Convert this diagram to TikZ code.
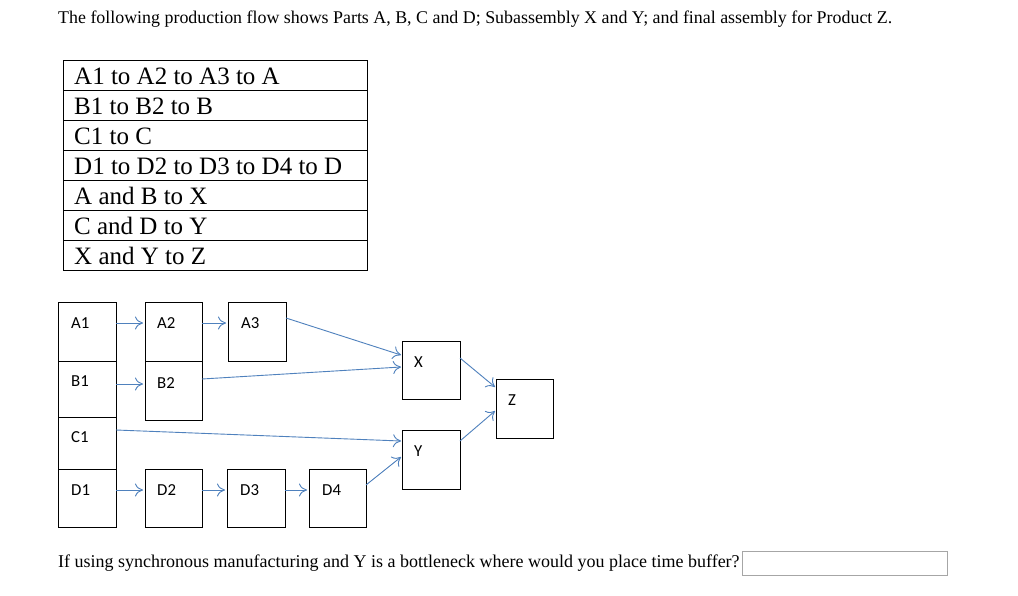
\documentclass[tikz,border=0pt]{standalone}
\usepackage{fontspec}
\setmainfont{Liberation Serif}
\newfontfamily\carlitofam{Carlito}
\usetikzlibrary{arrows.meta}
\definecolor{ablue}{RGB}{79,129,189}
\tikzset{
 bx/.style={draw,line width=1pt,inner sep=0pt},
 lb/.style={anchor=west,inner sep=0pt,font=\carlitofam\fontsize{16.8}{16.8}\selectfont},
 fl/.style={draw=ablue,line width=0.9pt,-{To[length=8pt,width=13pt,open]}},
 row/.style={draw,line width=1pt},
 tt/.style={anchor=west,inner sep=0pt,font=\fontsize{25}{25}\selectfont}
}
\begin{document}
\begin{tikzpicture}[x=1pt,y=-1pt]
\useasboundingbox[fill=white] (0,0) rectangle (1018,595);
\node[anchor=west,inner sep=0pt,font=\fontsize{17.9}{17.9}\selectfont] (t) at (58,19) {The following production flow shows Parts A, B, C and D; Subassembly X and Y; and final assembly for Product Z.};
\foreach \i/\s in {0/{A1 to A2 to A3 to A},1/{B1 to B2 to B},2/{C1 to C},3/{D1 to D2 to D3 to D4 to D},4/{A and B to X},5/{C and D to Y},6/{X and Y to Z}}{
 \draw[row] (63,60+30*\i) rectangle (367,90+30*\i);
 \node[tt] (r\i) at (74,76+30*\i) {\s};
}
% boxes
\draw[bx] (58,302) rectangle (116,361); \node[lb] (a1) at (71,323) {A1};
\draw[bx] (58,361) rectangle (116,417); \node[lb] (b1) at (71,381) {B1};
\draw[bx] (58,417) rectangle (116,469); \node[lb] (c1) at (71,437) {C1};
\draw[bx] (58,469) rectangle (116,527); \node[lb] (d1) at (71,490) {D1};
\draw[bx] (145,302) rectangle (202,361); \node[lb] (a2) at (157,323) {A2};
\draw[bx] (145,361) rectangle (202,420); \node[lb] (b2) at (157,383) {B2};
\draw[bx] (228,302) rectangle (286,361); \node[lb] (a3) at (241,323) {A3};
\draw[bx] (145,469) rectangle (202,527); \node[lb] (d2) at (157,490) {D2};
\draw[bx] (227,469) rectangle (285,527); \node[lb] (d3) at (240,490) {D3};
\draw[bx] (309,469) rectangle (366,527); \node[lb] (d4) at (322,490) {D4};
\draw[bx] (402,341) rectangle (460,399); \node[lb] (x) at (414,362) {X};
\draw[bx] (402,430) rectangle (460,489); \node[lb] (y) at (414,451) {Y};
\draw[bx] (496,379) rectangle (553,438); \node[lb] (z) at (508,400) {Z};
\coordinate (a1r) at (116,323); \coordinate (a2l) at (143,323);
\coordinate (a2r) at (202,323); \coordinate (a3l) at (226,323);
\coordinate (b1r) at (116,384); \coordinate (b2l) at (143,384);
\coordinate (d1r) at (116,490); \coordinate (d2l) at (143,490);
\coordinate (d2r) at (202,490); \coordinate (d3l) at (225,490);
\coordinate (d3r) at (285,490); \coordinate (d4l) at (307,490);
\coordinate (a3r) at (286,318); \coordinate (xa) at (401,355);
\coordinate (b2r) at (202,379); \coordinate (xb) at (401,367);
\coordinate (c1r) at (116,430); \coordinate (ya) at (401,441);
\coordinate (d4r) at (366,485); \coordinate (yb) at (401,457);
\coordinate (xr) at (460,358); \coordinate (za) at (495,387);
\coordinate (yr) at (460,441); \coordinate (zb) at (495,411);
\draw[fl] (a1r)--(a2l); \draw[fl] (a2r)--(a3l);
\draw[fl] (b1r)--(b2l);
\draw[fl] (d1r)--(d2l); \draw[fl] (d2r)--(d3l); \draw[fl] (d3r)--(d4l);
\draw[fl] (a3r)--(xa); \draw[fl] (b2r)--(xb);
\draw[fl] (c1r)--(ya); \draw[fl] (d4r)--(yb);
\draw[fl] (xr)--(za); \draw[fl] (yr)--(zb);
\node[anchor=west,inner sep=0pt,font=\fontsize{18}{18}\selectfont] (q) at (58,563) {If using synchronous manufacturing and Y is a bottleneck where would you place time buffer?};
\draw[draw=gray!70,line width=0.8pt] (742,551) rectangle (947,575);
\end{tikzpicture}
\end{document}
